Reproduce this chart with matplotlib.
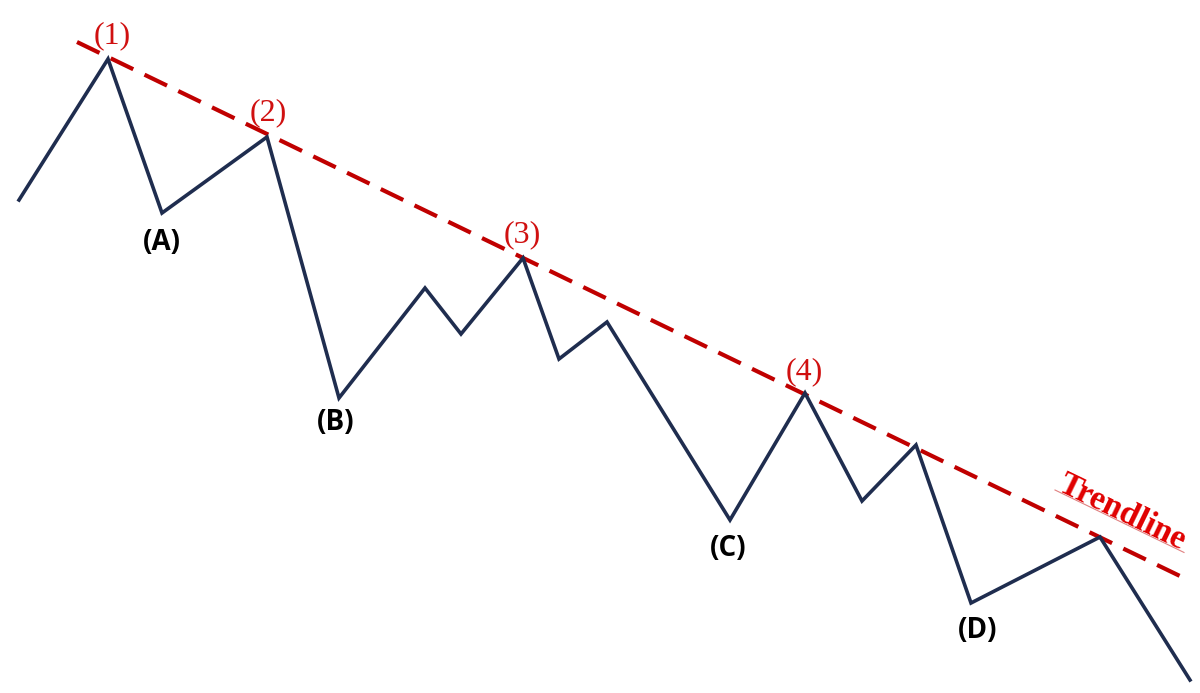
#Zigzag price path with a descending dashed trendline

import numpy as np
import matplotlib
matplotlib.use("Agg")
import matplotlib.pyplot as plt

#price path vertices (x, y, y grows downward)
px = [19, 108, 162, 267, 339, 425, 461, 523, 559, 607, 730, 805, 862, 916, 971, 1100, 1190]
py = [200, 59, 213, 137, 398, 288, 334, 258, 359, 322, 520, 393, 501, 445, 603, 537, 680]

#trendline ends
tx = [77, 1182]
ty = [42, 577]

#labels
peak_labels = ["(1)", "(2)", "(3)", "(4)"]
peak_x = [112, 268, 522, 804]
peak_y = [36, 113, 235, 372]

low_labels = ["(A)", "(B)", "(C)", "(D)"]
low_x = [162, 336, 728, 978]
low_y = [243, 422, 548, 630]

fig = plt.figure(figsize=(12, 6.93), dpi=100)
ax = fig.add_axes([0, 0, 1, 1])
ax.set_xlim(0, 1200)
ax.set_ylim(693, 0)
ax.axis("off")

ax.plot(tx, ty, color="#c00000", lw=3.0, dashes=(6.0, 3.0), solid_capstyle="butt", zorder=2)
ax.plot(px, py, color="#1f2d4f", lw=2.6, solid_joinstyle="miter", zorder=3)

for s, x, y in zip(peak_labels, peak_x, peak_y):
    ax.text(x, y, s, color="#d01010", fontsize=23, family="Liberation Serif",
            ha="center", va="center", zorder=4)

for s, x, y in zip(low_labels, low_x, low_y):
    ax.text(x, y, s, color="black", fontsize=20, family="Open Sans", weight="bold",
            ha="center", va="center", zorder=4)

#trendline caption, rotated along the line, with a thin underline
ang = np.degrees(np.arctan((ty[1] - ty[0]) / (tx[1] - tx[0])))
ax.text(1122, 512, "Trendline", color="#e00000", fontsize=24, family="Liberation Serif",
        weight="bold", rotation=-ang, rotation_mode="anchor", ha="center", va="center", zorder=4)
slope = (ty[1] - ty[0]) / (tx[1] - tx[0])
ux = np.array([1055, 1184])
ax.plot(ux, 490 + slope * (ux - 1055), color="#e08080", lw=0.8, zorder=4)

fig.savefig("out.png", dpi=100)
